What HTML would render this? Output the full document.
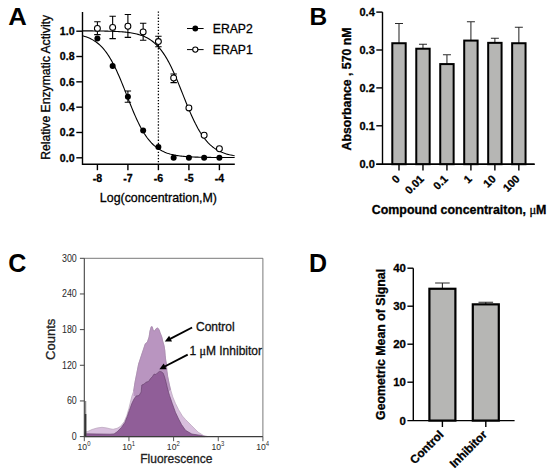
<!DOCTYPE html>
<html><head><meta charset="utf-8"><title>Figure</title><style>
html,body{margin:0;padding:0;background:#fff;width:550px;height:471px;overflow:hidden;}
svg{display:block;}
text{font-family:"Liberation Sans", sans-serif;}
</style></head><body>
<svg width="550" height="471" viewBox="0 0 550 471">
<rect width="550" height="471" fill="#fff"/>
<text class="ns" transform="translate(8.2 25) scale(1.07 1)" font-size="24" font-weight="bold">A</text>
<path d="M82.5 12.1V164.2H234.8" fill="none" stroke="#000" stroke-width="1.4"/>
<path d="M76.3 157.8H82.5" stroke="#000" stroke-width="1.4"/>
<text stroke="#000" stroke-width="0.3" x="74.6" y="161.6" font-size="10.6" font-weight="bold" text-anchor="end">0.0</text>
<path d="M76.3 132.48H82.5" stroke="#000" stroke-width="1.4"/>
<text stroke="#000" stroke-width="0.3" x="74.6" y="136.28" font-size="10.6" font-weight="bold" text-anchor="end">0.2</text>
<path d="M76.3 107.16H82.5" stroke="#000" stroke-width="1.4"/>
<text stroke="#000" stroke-width="0.3" x="74.6" y="110.96" font-size="10.6" font-weight="bold" text-anchor="end">0.4</text>
<path d="M76.3 81.84H82.5" stroke="#000" stroke-width="1.4"/>
<text stroke="#000" stroke-width="0.3" x="74.6" y="85.64" font-size="10.6" font-weight="bold" text-anchor="end">0.6</text>
<path d="M76.3 56.52H82.5" stroke="#000" stroke-width="1.4"/>
<text stroke="#000" stroke-width="0.3" x="74.6" y="60.32" font-size="10.6" font-weight="bold" text-anchor="end">0.8</text>
<path d="M76.3 31.2H82.5" stroke="#000" stroke-width="1.4"/>
<text stroke="#000" stroke-width="0.3" x="74.6" y="35" font-size="10.6" font-weight="bold" text-anchor="end">1.0</text>
<path d="M97.4 164.2V170.2" stroke="#000" stroke-width="1.4"/>
<text stroke="#000" stroke-width="0.3" x="97.4" y="181.9" font-size="10.6" font-weight="bold" text-anchor="middle">-8</text>
<path d="M127.9 164.2V170.2" stroke="#000" stroke-width="1.4"/>
<text stroke="#000" stroke-width="0.3" x="127.9" y="181.9" font-size="10.6" font-weight="bold" text-anchor="middle">-7</text>
<path d="M158.4 164.2V170.2" stroke="#000" stroke-width="1.4"/>
<text stroke="#000" stroke-width="0.3" x="158.4" y="181.9" font-size="10.6" font-weight="bold" text-anchor="middle">-6</text>
<path d="M188.9 164.2V170.2" stroke="#000" stroke-width="1.4"/>
<text stroke="#000" stroke-width="0.3" x="188.9" y="181.9" font-size="10.6" font-weight="bold" text-anchor="middle">-5</text>
<path d="M219.4 164.2V170.2" stroke="#000" stroke-width="1.4"/>
<text stroke="#000" stroke-width="0.3" x="219.4" y="181.9" font-size="10.6" font-weight="bold" text-anchor="middle">-4</text>
<text stroke="#000" stroke-width="0.3" x="158.4" y="201.8" font-size="12.4" text-anchor="middle">Log(concentration,M)</text>
<text stroke="#000" stroke-width="0.3" transform="translate(49.9 87.4) rotate(-90)" font-size="12.2" text-anchor="middle">Relative Enzymatic Activity</text>
<path d="M158.4 11.5V162.5" stroke="#000" stroke-width="1.3" stroke-dasharray="1.3 1.75"/>
<path d="M82.15 35.69 L83.42 36.04 L84.69 36.41 L85.96 36.83 L87.23 37.29 L88.5 37.79 L89.78 38.35 L91.05 38.96 L92.32 39.62 L93.59 40.36 L94.86 41.16 L96.13 42.03 L97.4 42.99 L98.67 44.03 L99.94 45.17 L101.21 46.4 L102.48 47.74 L103.75 49.18 L105.03 50.74 L106.3 52.42 L107.57 54.21 L108.84 56.14 L110.11 58.19 L111.38 60.37 L112.65 62.69 L113.92 65.12 L115.19 67.68 L116.46 70.36 L117.73 73.16 L119 76.05 L120.28 79.04 L121.55 82.1 L122.82 85.24 L124.09 88.42 L125.36 91.64 L126.63 94.88 L127.9 98.11 L129.17 101.34 L130.44 104.52 L131.71 107.66 L132.98 110.73 L134.25 113.73 L135.53 116.63 L136.8 119.43 L138.07 122.12 L139.34 124.69 L140.61 127.14 L141.88 129.46 L143.15 131.65 L144.42 133.71 L145.69 135.65 L146.96 137.46 L148.23 139.14 L149.5 140.71 L150.78 142.17 L152.05 143.51 L153.32 144.75 L154.59 145.89 L155.86 146.94 L157.13 147.91 L158.4 148.79 L159.67 149.6 L160.94 150.33 L162.21 151.01 L163.48 151.62 L164.75 152.18 L166.03 152.69 L167.3 153.15 L168.57 153.57 L169.84 153.95 L171.11 154.29 L172.38 154.6 L173.65 154.89 L174.92 155.14 L176.19 155.38 L177.46 155.59 L178.73 155.78 L180 155.95 L181.28 156.1 L182.55 156.25 L183.82 156.37 L185.09 156.49 L186.36 156.59 L187.63 156.68 L188.9 156.77 L190.17 156.84 L191.44 156.91 L192.71 156.98 L193.98 157.03 L195.25 157.08 L196.53 157.13 L197.8 157.17 L199.07 157.21 L200.34 157.24 L201.61 157.27 L202.88 157.3 L204.15 157.32 L205.42 157.34 L206.69 157.36 L207.96 157.38 L209.23 157.4 L210.5 157.41 L211.78 157.43 L213.05 157.44 L214.32 157.45 L215.59 157.46 L216.86 157.47 L218.13 157.47 L219.4 157.48 L220.67 157.49 L221.94 157.49 L223.21 157.5 L224.48 157.5 L225.75 157.51 L227.03 157.51 L228.3 157.52 L229.57 157.52 L230.84 157.52 L232.11 157.52 L233.38 157.53 L234.65 157.53" fill="none" stroke="#000" stroke-width="1.1"/>
<path d="M82.15 30.86 L83.42 30.87 L84.69 30.87 L85.96 30.88 L87.23 30.89 L88.5 30.89 L89.78 30.9 L91.05 30.91 L92.32 30.92 L93.59 30.93 L94.86 30.94 L96.13 30.95 L97.4 30.97 L98.67 30.98 L99.94 31 L101.21 31.02 L102.48 31.04 L103.75 31.06 L105.03 31.09 L106.3 31.11 L107.57 31.15 L108.84 31.18 L110.11 31.22 L111.38 31.26 L112.65 31.31 L113.92 31.36 L115.19 31.41 L116.46 31.48 L117.73 31.55 L119 31.62 L120.28 31.71 L121.55 31.8 L122.82 31.9 L124.09 32.02 L125.36 32.14 L126.63 32.28 L127.9 32.44 L129.17 32.6 L130.44 32.79 L131.71 33 L132.98 33.22 L134.25 33.47 L135.53 33.75 L136.8 34.05 L138.07 34.38 L139.34 34.75 L140.61 35.15 L141.88 35.59 L143.15 36.07 L144.42 36.6 L145.69 37.19 L146.96 37.82 L148.23 38.52 L149.5 39.28 L150.78 40.11 L152.05 41.02 L153.32 42.01 L154.59 43.08 L155.86 44.24 L157.13 45.5 L158.4 46.86 L159.67 48.32 L160.94 49.9 L162.21 51.59 L163.48 53.4 L164.75 55.33 L166.03 57.38 L167.3 59.56 L168.57 61.86 L169.84 64.29 L171.11 66.83 L172.38 69.48 L173.65 72.24 L174.92 75.1 L176.19 78.05 L177.46 81.08 L178.73 84.16 L180 87.3 L181.28 90.48 L182.55 93.67 L183.82 96.87 L185.09 100.05 L186.36 103.21 L187.63 106.32 L188.9 109.37 L190.17 112.35 L191.44 115.24 L192.71 118.05 L193.98 120.74 L195.25 123.33 L196.53 125.8 L197.8 128.15 L199.07 130.38 L200.34 132.48 L201.61 134.46 L202.88 136.32 L204.15 138.06 L205.42 139.68 L206.69 141.19 L207.96 142.59 L209.23 143.89 L210.5 145.09 L211.78 146.2 L213.05 147.22 L214.32 148.15 L215.59 149.01 L216.86 149.8 L218.13 150.52 L219.4 151.19 L220.67 151.79 L221.94 152.34 L223.21 152.84 L224.48 153.3 L225.75 153.72 L227.03 154.1 L228.3 154.44 L229.57 154.76 L230.84 155.04 L232.11 155.3 L233.38 155.54 L234.65 155.75" fill="none" stroke="#000" stroke-width="1.1"/>
<path d="M97.4 21.8V34.6M94.2 21.8H100.6M94.2 34.6H100.6" stroke="#000" stroke-width="1.1"/>
<path d="M112.65 16.2V38.6M109.45 16.2H115.85M109.45 38.6H115.85" stroke="#000" stroke-width="1.1"/>
<path d="M127.9 14.5V37.4M124.7 14.5H131.1M124.7 37.4H131.1" stroke="#000" stroke-width="1.1"/>
<path d="M143.15 23.3V40.3M139.95 23.3H146.35M139.95 40.3H146.35" stroke="#000" stroke-width="1.1"/>
<path d="M158.4 36.3V46.7M155.2 36.3H161.6M155.2 46.7H161.6" stroke="#000" stroke-width="1.1"/>
<path d="M173.65 74V82.6M170.45 74H176.85M170.45 82.6H176.85" stroke="#000" stroke-width="1.1"/>
<path d="M127.9 91V102.3M124.7 91H131.1M124.7 102.3H131.1" stroke="#000" stroke-width="1.1"/>
<circle cx="97.4" cy="38.4" r="3" fill="#000"/>
<circle cx="112.65" cy="66" r="3" fill="#000"/>
<circle cx="127.9" cy="96.7" r="3" fill="#000"/>
<circle cx="143.15" cy="130.5" r="3" fill="#000"/>
<circle cx="158.4" cy="147.1" r="3" fill="#000"/>
<circle cx="173.65" cy="157.7" r="3" fill="#000"/>
<circle cx="188.9" cy="157.7" r="3" fill="#000"/>
<circle cx="204.15" cy="157.7" r="3" fill="#000"/>
<circle cx="219.4" cy="157.7" r="3" fill="#000"/>
<circle cx="97.4" cy="28.4" r="2.95" fill="#fff" stroke="#000" stroke-width="1.05"/>
<circle cx="112.65" cy="27.4" r="2.95" fill="#fff" stroke="#000" stroke-width="1.05"/>
<circle cx="127.9" cy="26.2" r="2.95" fill="#fff" stroke="#000" stroke-width="1.05"/>
<circle cx="143.15" cy="31.9" r="2.95" fill="#fff" stroke="#000" stroke-width="1.05"/>
<circle cx="158.4" cy="41.6" r="2.95" fill="#fff" stroke="#000" stroke-width="1.05"/>
<circle cx="173.65" cy="78" r="2.95" fill="#fff" stroke="#000" stroke-width="1.05"/>
<circle cx="188.9" cy="107.9" r="2.95" fill="#fff" stroke="#000" stroke-width="1.05"/>
<circle cx="204.15" cy="135.2" r="2.95" fill="#fff" stroke="#000" stroke-width="1.05"/>
<circle cx="219.4" cy="148.7" r="2.95" fill="#fff" stroke="#000" stroke-width="1.05"/>
<path d="M187 28.5H203.6M187 49.6H203.6" stroke="#000" stroke-width="1"/>
<circle cx="195.3" cy="28.5" r="2.9" fill="#000"/>
<circle cx="195.3" cy="49.6" r="2.6" fill="#fff" stroke="#000" stroke-width="1.1"/>
<text stroke="#000" stroke-width="0.3" x="212.8" y="32.7" font-size="12.2">ERAP2</text>
<text stroke="#000" stroke-width="0.3" x="212.8" y="53.7" font-size="12.2">ERAP1</text>
<text class="ns" x="309.6" y="24.7" font-size="24.5" font-weight="bold">B</text>
<path d="M382.5 12.1V164.2" fill="none" stroke="#000" stroke-width="1.4"/>
<path d="M376.3 164.2H534.6" fill="none" stroke="#000" stroke-width="1.4"/>
<text stroke="#000" stroke-width="0.3" x="374.8" y="168.2" font-size="11" font-weight="bold" text-anchor="end">0.0</text>
<path d="M376.3 125.8H382.5" stroke="#000" stroke-width="1.4"/>
<text stroke="#000" stroke-width="0.3" x="374.8" y="129.8" font-size="11" font-weight="bold" text-anchor="end">0.1</text>
<path d="M376.3 87.9H382.5" stroke="#000" stroke-width="1.4"/>
<text stroke="#000" stroke-width="0.3" x="374.8" y="91.9" font-size="11" font-weight="bold" text-anchor="end">0.2</text>
<path d="M376.3 50H382.5" stroke="#000" stroke-width="1.4"/>
<text stroke="#000" stroke-width="0.3" x="374.8" y="54" font-size="11" font-weight="bold" text-anchor="end">0.3</text>
<path d="M376.3 12.1H382.5" stroke="#000" stroke-width="1.4"/>
<text stroke="#000" stroke-width="0.3" x="374.8" y="16.1" font-size="11" font-weight="bold" text-anchor="end">0.4</text>
<path d="M399 43.23V23.47M395 23.47H403" stroke="#2a2a2a" stroke-width="1.05"/>
<rect x="392.3" y="43.23" width="13.4" height="120.97" fill="#b6b6b4" stroke="#000" stroke-width="2"/>
<path d="M399 164.2V170.6" stroke="#000" stroke-width="1.4"/>
<text stroke="#000" stroke-width="0.3" transform="translate(400.6 179.6) rotate(-45)" font-size="11" font-weight="bold" text-anchor="end">0</text>
<path d="M422.97 48.73V44.31M418.97 44.31H426.97" stroke="#2a2a2a" stroke-width="1.05"/>
<rect x="416.27" y="48.73" width="13.4" height="115.47" fill="#b6b6b4" stroke="#000" stroke-width="2"/>
<path d="M422.97 164.2V170.6" stroke="#000" stroke-width="1.4"/>
<text stroke="#000" stroke-width="0.3" transform="translate(424.57 179.6) rotate(-45)" font-size="11" font-weight="bold" text-anchor="end">0.01</text>
<path d="M446.94 64.08V54.74M442.94 54.74H450.94" stroke="#2a2a2a" stroke-width="1.05"/>
<rect x="440.24" y="64.08" width="13.4" height="100.12" fill="#b6b6b4" stroke="#000" stroke-width="2"/>
<path d="M446.94 164.2V170.6" stroke="#000" stroke-width="1.4"/>
<text stroke="#000" stroke-width="0.3" transform="translate(448.54 179.6) rotate(-45)" font-size="11" font-weight="bold" text-anchor="end">0.1</text>
<path d="M470.91 40.58V21.76M466.91 21.76H474.91" stroke="#2a2a2a" stroke-width="1.05"/>
<rect x="464.21" y="40.58" width="13.4" height="123.62" fill="#b6b6b4" stroke="#000" stroke-width="2"/>
<path d="M470.91 164.2V170.6" stroke="#000" stroke-width="1.4"/>
<text stroke="#000" stroke-width="0.3" transform="translate(472.51 179.6) rotate(-45)" font-size="11" font-weight="bold" text-anchor="end">1</text>
<path d="M494.88 42.85V38.25M490.88 38.25H498.88" stroke="#2a2a2a" stroke-width="1.05"/>
<rect x="488.18" y="42.85" width="13.4" height="121.35" fill="#b6b6b4" stroke="#000" stroke-width="2"/>
<path d="M494.88 164.2V170.6" stroke="#000" stroke-width="1.4"/>
<text stroke="#000" stroke-width="0.3" transform="translate(496.48 179.6) rotate(-45)" font-size="11" font-weight="bold" text-anchor="end">10</text>
<path d="M518.85 43.23V27.26M514.85 27.26H522.85" stroke="#2a2a2a" stroke-width="1.05"/>
<rect x="512.15" y="43.23" width="13.4" height="120.97" fill="#b6b6b4" stroke="#000" stroke-width="2"/>
<path d="M518.85 164.2V170.6" stroke="#000" stroke-width="1.4"/>
<text stroke="#000" stroke-width="0.3" transform="translate(520.45 179.6) rotate(-45)" font-size="11" font-weight="bold" text-anchor="end">100</text>
<path d="M376.3 164.2H534.6" fill="none" stroke="#000" stroke-width="1.4"/>
<text stroke="#000" stroke-width="0.3" x="371.8" y="214" font-size="12.4" font-weight="bold">Compound concentraiton, <tspan font-family="Liberation Serif, serif" font-weight="normal">&#956;</tspan>M</text>
<text stroke="#000" stroke-width="0.3" transform="translate(351.3 89.0) rotate(-90)" font-size="12.3" font-weight="bold" text-anchor="middle">Absorbance , 570 nM</text>
<text class="ns" x="309" y="271.9" font-size="25" font-weight="bold">D</text>
<path d="M413.3 268.2V420.6" fill="none" stroke="#000" stroke-width="1.4"/>
<text stroke="#000" stroke-width="0.3" x="405.9" y="424.7" font-size="11.4" font-weight="bold" text-anchor="end">0</text>
<path d="M407.4 382.2H413.3" stroke="#000" stroke-width="1.4"/>
<text stroke="#000" stroke-width="0.3" x="405.9" y="386.3" font-size="11.4" font-weight="bold" text-anchor="end">10</text>
<path d="M407.4 344.2H413.3" stroke="#000" stroke-width="1.4"/>
<text stroke="#000" stroke-width="0.3" x="405.9" y="348.3" font-size="11.4" font-weight="bold" text-anchor="end">20</text>
<path d="M407.4 306.2H413.3" stroke="#000" stroke-width="1.4"/>
<text stroke="#000" stroke-width="0.3" x="405.9" y="310.3" font-size="11.4" font-weight="bold" text-anchor="end">30</text>
<path d="M407.4 268.2H413.3" stroke="#000" stroke-width="1.4"/>
<text stroke="#000" stroke-width="0.3" x="405.9" y="272.3" font-size="11.4" font-weight="bold" text-anchor="end">40</text>
<path d="M442.4 288.77V283.02M435.1 283.02H449.7" stroke="#2a2a2a" stroke-width="1.1"/>
<rect x="429.4" y="288.77" width="26" height="131.83" fill="#b6b6b4" stroke="#000" stroke-width="2.2"/>
<path d="M442.4 420.6V427" stroke="#000" stroke-width="1.4"/>
<text stroke="#000" stroke-width="0.3" transform="translate(444.2 435.4) rotate(-45)" font-size="11.7" font-weight="bold" text-anchor="end">Control</text>
<path d="M485.8 304.35V302.21M478.5 302.21H493.1" stroke="#2a2a2a" stroke-width="1.1"/>
<rect x="472.8" y="304.35" width="26" height="116.25" fill="#b6b6b4" stroke="#000" stroke-width="2.2"/>
<path d="M485.8 420.6V427" stroke="#000" stroke-width="1.4"/>
<text stroke="#000" stroke-width="0.3" transform="translate(487.6 435.4) rotate(-45)" font-size="11.7" font-weight="bold" text-anchor="end">Inhibitor</text>
<path d="M407.4 420.6H514.6" fill="none" stroke="#000" stroke-width="1.4"/>
<text stroke="#000" stroke-width="0.3" transform="translate(385.3 344.4) rotate(-90)" font-size="12.3" font-weight="bold" text-anchor="middle">Geometric Mean of Signal</text>
<text class="ns" x="8.2" y="272.2" font-size="25" font-weight="bold">C</text>
<polygon points="84.5,436.6 84.5,432 87.6,431.5 92,429.5 97,428 102,427.3 107,428 110,428.8 113.1,429.3 117.1,428.3 120.7,426.2 124.3,421.6 126.8,415.5 128.9,408.4 130.4,402.2 131.9,396.1 133.6,391.4 135,382.3 136.8,373.2 138.6,364.1 140.6,358 141.9,354 143.6,348.9 145.3,343.8 147.4,342.1 149.1,337 150,331 151.2,326.8 152.2,326.8 153.3,330.6 154.6,331 156.3,328.5 157.6,328.1 158.9,329.3 160.1,332.7 161.8,337 162.7,341.2 164,345.5 164.8,350.6 165.2,355.7 165.7,360 166.4,364 166.8,370.2 167.7,376.6 169,383 170.9,390.6 172.8,397 175.4,403.3 178.6,409.7 182.4,416 185.5,419.5 191.8,425.8 198.2,432.2 203.3,435.4 208,436.6" fill="#d8bfdd" stroke="#b7a3ba" stroke-width="0.7"/>
<polygon points="133.6,396 133.6,391.4 135,382.3 136.8,373.2 138.6,364.1 140.6,358 141.9,354 143.6,348.9 145.3,343.8 147.4,342.1 149.1,337 150,331 151.2,326.8 152.2,326.8 153.3,330.6 154.6,331 156.3,328.5 157.6,328.1 158.9,329.3 160.1,332.7 161.8,337 162.7,341.2 164,345.5 164.8,350.6 165.2,355.7 165.7,360 166.4,364 166.8,370.2 167.7,376.6 169,383 170.4,390 168,392 140,396" fill="#b995c0"/>
<polyline points="133.6,391.4 135,382.3 136.8,373.2 138.6,364.1 140.6,358 141.9,354 143.6,348.9 145.3,343.8 147.4,342.1 149.1,337 150,331 151.2,326.8 152.2,326.8 153.3,330.6 154.6,331 156.3,328.5 157.6,328.1 158.9,329.3 160.1,332.7 161.8,337 162.7,341.2 164,345.5 164.8,350.6 165.2,355.7 165.7,360 166.4,364 166.8,370.2 167.7,376.6 169,383 170.4,390" fill="none" stroke="#a88aad" stroke-width="0.7"/>
<polygon points="84.5,436.6 84.5,433.8 110,434.2 114.1,433.9 117.1,431.8 121.2,427.8 124.8,422.7 127.3,416.5 129.4,410.4 131.9,403.3 134,399 136,396.1 139,395.6 141.2,392 141.8,385 144.1,384.1 145.9,382.3 148.6,381.4 150.5,378.6 152.3,376.8 154.1,374.1 155.9,374.5 157.7,372.7 159.5,371.4 161.4,371.8 163.2,373.2 164.6,377 166.2,383 167.6,389 169.6,395.7 172.2,403.3 175.4,412.2 178.6,419 181.5,424.5 185.5,430.3 191.8,434 200.7,435.4 205,436.6" fill="#905e98" stroke="#6a4570" stroke-width="0.7"/>
<path d="M85.5 436.5V401" stroke="#8a8a8a" stroke-width="1.5"/>
<path d="M85.5 436.5V414" stroke="#333" stroke-width="1.7"/>
<path d="M84.3 258.3H262.9V436.6" fill="none" stroke="#6a6a6a" stroke-width="0.9"/>
<path d="M84.3 258.3V436.6H262.9" fill="none" stroke="#3c3c3c" stroke-width="1.05"/>
<path d="M79.9 436.6H84.3" stroke="#444" stroke-width="1"/>
<text class="ns" transform="translate(76.8 440) scale(0.88 1)" font-size="10.1" fill="#2a2a2a" text-anchor="end">0</text>
<path d="M79.9 400.94H84.3" stroke="#444" stroke-width="1"/>
<text class="ns" transform="translate(76.8 404.34) scale(0.88 1)" font-size="10.1" fill="#2a2a2a" text-anchor="end">60</text>
<path d="M79.9 365.28H84.3" stroke="#444" stroke-width="1"/>
<text class="ns" transform="translate(76.8 368.68) scale(0.88 1)" font-size="10.1" fill="#2a2a2a" text-anchor="end">120</text>
<path d="M79.9 329.62H84.3" stroke="#444" stroke-width="1"/>
<text class="ns" transform="translate(76.8 333.02) scale(0.88 1)" font-size="10.1" fill="#2a2a2a" text-anchor="end">180</text>
<path d="M79.9 293.96H84.3" stroke="#444" stroke-width="1"/>
<text class="ns" transform="translate(76.8 297.36) scale(0.88 1)" font-size="10.1" fill="#2a2a2a" text-anchor="end">240</text>
<path d="M79.9 258.3H84.3" stroke="#444" stroke-width="1"/>
<text class="ns" transform="translate(76.8 261.7) scale(0.88 1)" font-size="10.1" fill="#2a2a2a" text-anchor="end">300</text>
<path d="M84.3 436.6V441.2" stroke="#555" stroke-width="1"/>
<text class="ns" transform="translate(84 449.6) scale(0.9 1)" font-size="9.6" fill="#2a2a2a" text-anchor="middle">10<tspan font-size="6.6" dy="-3.6">0</tspan></text>
<path d="M128.95 436.6V441.2" stroke="#555" stroke-width="1"/>
<text class="ns" transform="translate(128.65 449.6) scale(0.9 1)" font-size="9.6" fill="#2a2a2a" text-anchor="middle">10<tspan font-size="6.6" dy="-3.6">1</tspan></text>
<path d="M173.6 436.6V441.2" stroke="#555" stroke-width="1"/>
<text class="ns" transform="translate(173.3 449.6) scale(0.9 1)" font-size="9.6" fill="#2a2a2a" text-anchor="middle">10<tspan font-size="6.6" dy="-3.6">2</tspan></text>
<path d="M218.25 436.6V441.2" stroke="#555" stroke-width="1"/>
<text class="ns" transform="translate(217.95 449.6) scale(0.9 1)" font-size="9.6" fill="#2a2a2a" text-anchor="middle">10<tspan font-size="6.6" dy="-3.6">3</tspan></text>
<path d="M262.9 436.6V441.2" stroke="#555" stroke-width="1"/>
<text class="ns" transform="translate(262.6 449.6) scale(0.9 1)" font-size="9.6" fill="#2a2a2a" text-anchor="middle">10<tspan font-size="6.6" dy="-3.6">4</tspan></text>
<text stroke="#222" stroke-width="0.3" x="176.3" y="463.2" font-size="12" fill="#222" text-anchor="middle">Fluorescence</text>
<text stroke="#222" stroke-width="0.3" transform="translate(55.2 339.3) rotate(-90)" font-size="13" fill="#222" text-anchor="middle">Counts</text>
<text stroke="#111" stroke-width="0.3" x="196" y="331.2" font-size="12" fill="#111">Control</text>
<text stroke="#111" stroke-width="0.3" x="189.5" y="355.2" font-size="12" fill="#111">1 <tspan font-family="Liberation Serif, serif">&#956;</tspan>M Inhibitor</text>
<path d="M192.1 327.5L169.69 339.08" stroke="#000" stroke-width="1.9"/>
<polygon points="164.8,341.6 169.11,335.77 172.04,341.46" fill="#000"/>
<path d="M187.7 354.7L164.29 366.78" stroke="#000" stroke-width="1.9"/>
<polygon points="159.4,369.3 163.71,363.48 166.64,369.16" fill="#000"/>
</svg>
</body></html>
